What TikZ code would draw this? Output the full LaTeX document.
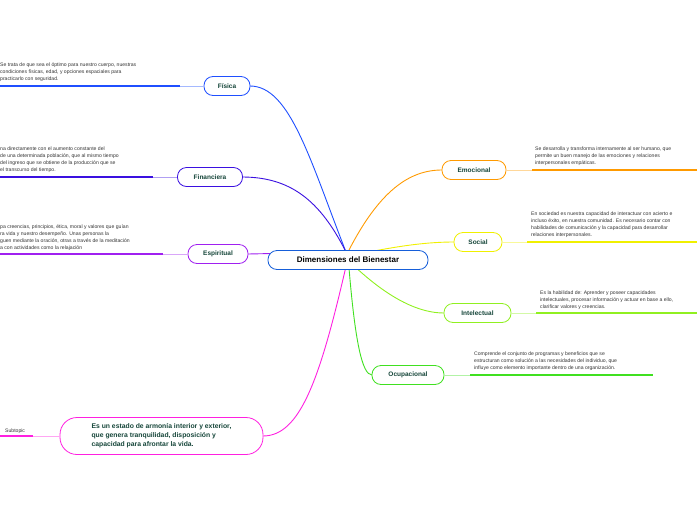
\documentclass[tikz,border=0pt]{standalone}
\usepackage{fontspec}
\setmainfont{Liberation Sans}
\begin{document}
\begin{tikzpicture}[x=1pt,y=-1pt,
 topic/.style={draw,line width=0.8pt,rounded corners=9pt,fill=white,font=\fontsize{6.5}{8}\selectfont\bfseries,text=tgreen,minimum height=19pt,inner xsep=8pt},
 note/.style={anchor=north west,align=left,inner sep=0pt,font=\fontsize{5.1}{6.9}\selectfont,text=black!80},
 conn/.style={line width=0.9pt},
 dark/.style={line width=1.3pt}]
\definecolor{tgreen}{HTML}{16463A}
\useasboundingbox (0,0) rectangle (697,520);
\clip (0,0) rectangle (697,520);
\definecolor{cF}{HTML}{1F4FFF}\definecolor{cFi}{HTML}{3A10E0}\definecolor{cE}{HTML}{A020F0}
\definecolor{cB}{HTML}{FF20E0}\definecolor{cEm}{HTML}{FF9A00}\definecolor{cS}{HTML}{F0F000}
\definecolor{cI}{HTML}{90F020}\definecolor{cO}{HTML}{40E020}
\coordinate (r) at (346,252);
% curves
\draw[conn,cF] (r) .. controls (310,160) and (290,86) .. (250,86);
\draw[conn,cFi] (r) .. controls (320,200) and (290,177) .. (242,177);
\draw[conn,cE] (r) -- (248,254);
\draw[conn,cB] (347,262) .. controls (320,380) and (300,436) .. (263,436);
\draw[conn,cEm] (349,250) .. controls (380,190) and (410,170) .. (442,170);
\draw[conn,cS] (350,256) .. controls (400,245) and (430,242) .. (454,242);
\draw[conn,cI] (352,264) .. controls (390,300) and (420,313) .. (444,313);
\draw[conn,cO] (349,268) .. controls (355,340) and (362,375) .. (372,375);
\node[topic,draw=cF!70!teal,minimum width=160pt,font=\fontsize{8}{10}\selectfont\bfseries,text=black] (root) at (348,260) {Dimensiones del Bienestar};
% left
\node[topic,draw=cF,minimum width=46pt] (fis) at (227,86) {Física};
\draw[conn,cF!40] (fis.west) -- (180,86) coordinate (f1);
\draw[dark,cF] (f1) -- (0,86);
\node[note] (tf) at (0,62.5) {Se trata de que sea el óptimo para nuestro cuerpo, nuestras\\condiciones físicas, edad, y opciones espaciales para\\practicarlo con seguridad.};
\node[topic,draw=cFi,minimum width=65pt] (fin) at (210,177) {Financiera};
\draw[conn,cFi!40] (fin.west) -- (153,177) coordinate (f2);
\draw[dark,cFi] (f2) -- (0,177);
\node[note] (tfi) at (0,146.5) {na directamente con el aumento constante del\\de una determinada población, que al mismo tiempo\\del ingreso que se obtiene de la producción que se\\el transcurso del tiempo.};
\node[topic,draw=cE,minimum width=60pt] (esp) at (218,254) {Espiritual};
\draw[conn,cE!40] (esp.west) -- (163,254) coordinate (f3);
\draw[dark,cE] (f3) -- (0,254);
\node[note] (te) at (0,224.5) {pa creencias, principios, ética, moral y valores que guían\\ra vida y nuestro desempeño. Unas personas la\\guen mediante la oración, otras a través de la meditación\\a con actividades como la relajación};
\node[topic,draw=cB,minimum width=203pt,minimum height=37pt,rounded corners=17pt,align=left,font=\fontsize{6.8}{9}\selectfont\bfseries] (bot) at (161.5,436) {Es un estado de armonía interior y exterior,\\que genera tranquilidad, disposición y\\capacidad para afrontar la vida.};
\draw[conn,cB!40] (bot.west) -- (33,436) coordinate (f4);
\draw[dark,cB] (f4) -- (0,436);
\node[note,anchor=south west] (sub) at (5,433.5) {Subtopic};
% right
\node[topic,draw=cEm,minimum width=64pt] (emo) at (474,170) {Emocional};
\draw[conn,cEm!40] (emo.east) -- (532,170) coordinate (g1);
\draw[dark,cEm] (g1) -- (697,170);
\node[note] (tem) at (535,146.5) {Se desarrolla y transforma internamente al ser humano, que\\permite un buen manejo de las emociones y relaciones\\interpersonales empáticas.};
\node[topic,draw=cS,minimum width=48pt] (soc) at (478,242) {Social};
\draw[conn,cS!40] (soc.east) -- (527,242) coordinate (g2);
\draw[dark,cS] (g2) -- (697,242);
\node[note] (ts) at (531,211.5) {En sociedad es nuestra capacidad de interactuar con acierto e\\incluso éxito, en nuestra comunidad. Es necesario contar con\\habilidades de comunicación y la capacidad para desarrollar\\relaciones interpersonales.};
\node[topic,draw=cI,minimum width=67pt] (int) at (477.5,313) {Intelectual};
\draw[conn,cI!40] (int.east) -- (536,313) coordinate (g3);
\draw[dark,cI] (g3) -- (697,313);
\node[note] (ti) at (540,290.5) {Es la habilidad de: Aprender y poseer capacidades\\intelectuales, procesar información y actuar en base a ello,\\clarificar valores y creencias.};
\node[topic,draw=cO,minimum width=72pt] (ocu) at (408,375) {Ocupacional};
\draw[conn,cO!40] (ocu.east) -- (470,375) coordinate (g4);
\draw[dark,cO] (g4) -- (653,375);
\node[note] (to) at (474,351.5) {Comprende el conjunto de programas y beneficios que se\\estructuran como solución a las necesidades del individuo, que\\influye como elemento importante dentro de una organización.};
\end{tikzpicture}
\end{document}
